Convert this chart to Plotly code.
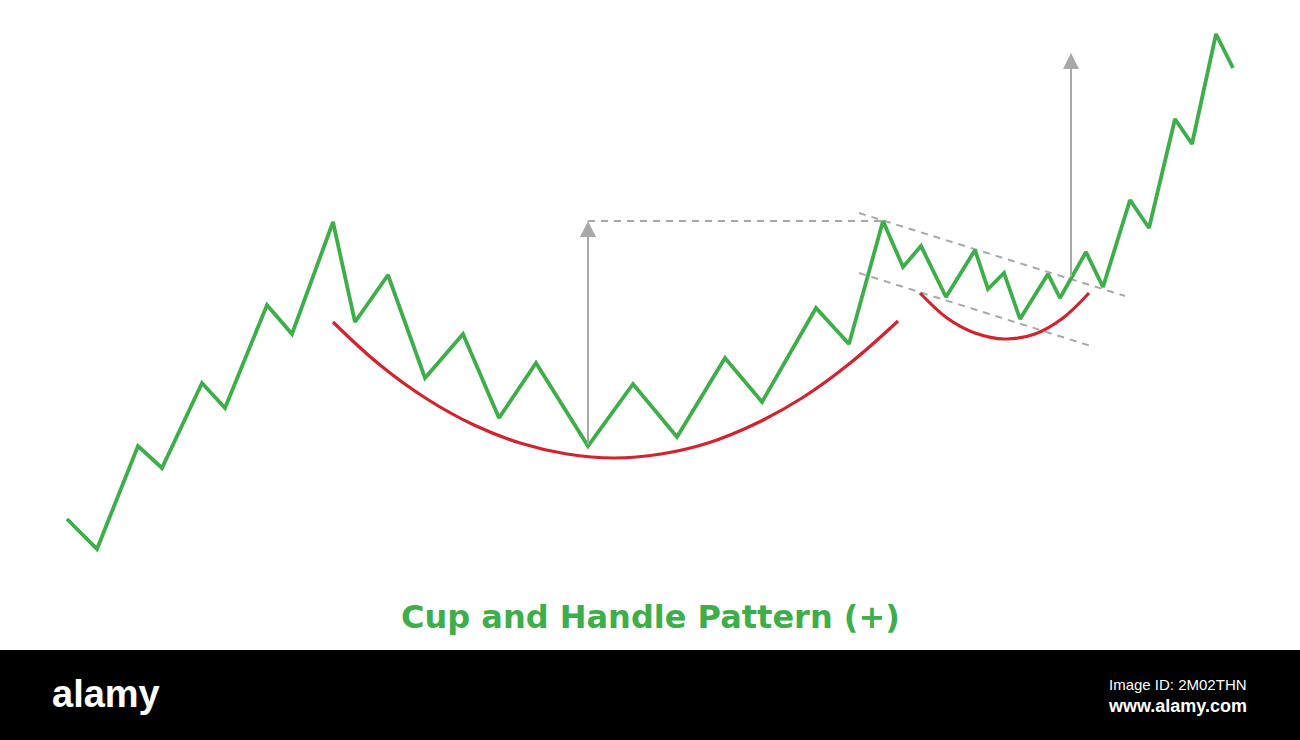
import plotly.graph_objects as go

# Price path (pixel-space chart units)
price_x = [67, 97, 138, 162, 202, 225, 267, 292, 333, 355, 388, 425, 463, 499, 536, 588,
           633, 677, 725, 762, 816, 849, 883, 903, 921, 946, 975, 988, 1004, 1020, 1048,
           1060, 1086, 1103, 1130, 1149, 1175, 1192, 1216, 1233]
price_y = [519, 549, 446, 468, 383, 408, 305, 334, 222, 322, 275, 378, 334, 418, 363, 446,
           384, 437, 358, 402, 308, 344, 221, 267, 246, 297, 250, 289, 273, 319, 274,
           298, 252, 287, 200, 228, 119, 144, 34, 68]

# Cup curve points read along the red arc
cup_x = [333, 380, 427, 474, 520, 567, 614, 661, 708, 755, 802, 849, 898]
cup_y = [322, 365, 399, 425, 443, 454, 458, 454, 443, 424, 398, 364, 321]

# Handle curve points
handle_x = [920, 947, 975, 1005, 1035, 1063, 1089]
handle_y = [293, 318, 333, 339, 334, 318, 293]

# Resistance line (dashed)
resist_x = [588, 883]
resist_y = [221, 221]

# Handle channel (dashed)
chan_up_x = [859, 1125]
chan_up_y = [213, 296]
chan_lo_x = [859, 1094]
chan_lo_y = [273, 347]

# Target arrows: (x, tail_y, head_y)
arrow1 = (588, 446, 221)
arrow2 = (1071, 278, 53)

title_text = "Cup and Handle Pattern (+)"

GREEN = "#3dae49"
RED = "#d2232e"
GRAY = "#a8a8a8"

fig = go.Figure()

for xs, ys in [(resist_x, resist_y), (chan_up_x, chan_up_y), (chan_lo_x, chan_lo_y)]:
    fig.add_trace(go.Scatter(x=xs, y=ys, mode="lines",
                             line=dict(color=GRAY, width=2, dash="7px,6px"),
                             hoverinfo="skip", showlegend=False))

fig.add_trace(go.Scatter(x=cup_x, y=cup_y, mode="lines",
                         line=dict(color=RED, width=3.2, shape="spline", smoothing=1.2),
                         hoverinfo="skip", showlegend=False))
fig.add_trace(go.Scatter(x=handle_x, y=handle_y, mode="lines",
                         line=dict(color=RED, width=3.2, shape="spline", smoothing=1.0),
                         hoverinfo="skip", showlegend=False))

fig.add_trace(go.Scatter(x=price_x, y=price_y, mode="lines",
                         line=dict(color=GREEN, width=3.8),
                         hoverinfo="skip", showlegend=False))

for ax_x, tail_y, head_y in [arrow1, arrow2]:
    fig.add_annotation(x=ax_x, y=head_y, ax=ax_x, ay=tail_y, xref="x", yref="y",
                       axref="x", ayref="y", showarrow=True, arrowhead=2,
                       arrowsize=1.6, arrowwidth=2, arrowcolor=GRAY, text="")

fig.add_annotation(x=650, y=617, xref="x", yref="y", text="<b>" + title_text + "</b>",
                   showarrow=False, font=dict(family="DejaVu Sans", size=32, color=GREEN))

# Black footer band
fig.add_shape(type="rect", x0=0, x1=1300, y0=650, y1=740, xref="x", yref="y",
              fillcolor="black", line=dict(width=0), layer="below")
fig.add_annotation(x=50, y=694, xref="x", yref="y", text="<b>alamy</b>", xanchor="left",
                   showarrow=False,
                   font=dict(family="Liberation Sans", size=38, color="white"))
fig.add_annotation(x=1249, y=684, xref="x", yref="y", text="Image ID: 2M02THN", xanchor="right",
                   showarrow=False,
                   font=dict(family="Liberation Sans", size=15, color="white"))
fig.add_annotation(x=1249, y=706, xref="x", yref="y", text="<b>www.alamy.com</b>", xanchor="right",
                   showarrow=False,
                   font=dict(family="Liberation Sans", size=18, color="white"))

fig.update_layout(width=1300, height=740, margin=dict(l=0, r=0, t=0, b=0),
                  paper_bgcolor="white", plot_bgcolor="white",
                  xaxis=dict(range=[0, 1300], visible=False, fixedrange=True),
                  yaxis=dict(range=[740, 0], visible=False, fixedrange=True))

fig.write_html("out.html", config={"displayModeBar": False},
               post_script="document.body.style.margin='0';")
